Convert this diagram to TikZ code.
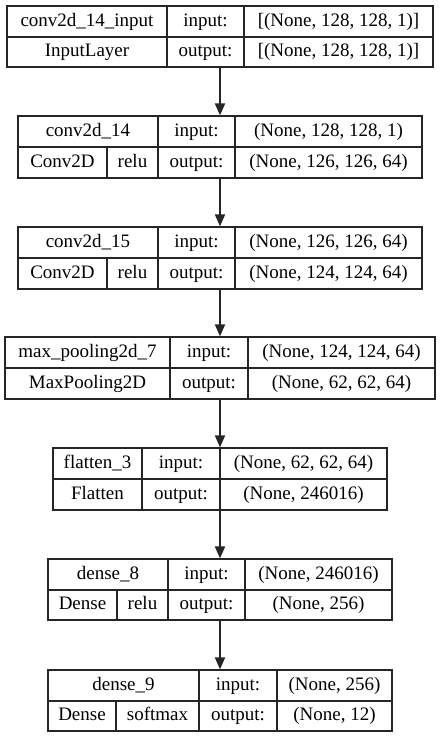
\documentclass[tikz,border=0pt]{standalone}
\usepackage{fontspec}
\setmainfont{Liberation Serif}
\usetikzlibrary{arrows.meta}
\tikzset{
  cell/.style={draw=black!85, line width=1.2pt, inner sep=0pt, text height=13.5pt, text depth=4.5pt, font=\fontsize{19}{22}\selectfont},
  box/.style={draw=black!85, line width=1.2pt, inner sep=0pt},
  conn/.style={draw=black!85, line width=1.8pt, -{Triangle[length=12pt,width=10pt]}}
}
% \cellbox{name}{x1}{y1}{x2}{y2}{text}
\newcommand{\cellbox}[6]{%
  \node[cell, minimum width={(#4-#2)*1pt}, minimum height={(#5-#3)*1pt}] (#1) at ({(#2+#4)/2},{(#3+#5)/2}) {#6};}
\newcommand{\outerbox}[5]{%
  \node[box, minimum width={(#4-#2)*1pt}, minimum height={(#5-#3)*1pt}] (#1) at ({(#2+#4)/2},{(#3+#5)/2}) {};}
\begin{document}
\begin{tikzpicture}[x=1pt,y=-1pt]
\useasboundingbox (0,0) rectangle (440,737);
% Layer 1
\outerbox{L1}{7}{6}{433}{67}
\cellbox{L1a}{7}{6}{167}{37}{conv2d\_14\_input}
\cellbox{L1b}{167}{6}{244}{37}{input:}
\cellbox{L1c}{244}{6}{433}{37}{[(None, 128, 128, 1)]}
\cellbox{L1d}{7}{37}{167}{67}{InputLayer}
\cellbox{L1e}{167}{37}{244}{67}{output:}
\cellbox{L1f}{244}{37}{433}{67}{[(None, 128, 128, 1)]}
% Layer 2
\outerbox{L2}{18}{116}{422}{178}
\cellbox{L2a}{18}{116}{158}{147}{conv2d\_14}
\cellbox{L2b}{158}{116}{235}{147}{input:}
\cellbox{L2c}{235}{116}{422}{147}{(None, 128, 128, 1)}
\cellbox{L2d}{18}{147}{107}{178}{Conv2D}
\cellbox{L2g}{107}{147}{158}{178}{relu}
\cellbox{L2e}{158}{147}{235}{178}{output:}
\cellbox{L2f}{235}{147}{422}{178}{(None, 126, 126, 64)}
% Layer 3
\outerbox{L3}{18}{227}{422}{289}
\cellbox{L3a}{18}{227}{158}{258}{conv2d\_15}
\cellbox{L3b}{158}{227}{235}{258}{input:}
\cellbox{L3c}{235}{227}{422}{258}{(None, 126, 126, 64)}
\cellbox{L3d}{18}{258}{107}{289}{Conv2D}
\cellbox{L3g}{107}{258}{158}{289}{relu}
\cellbox{L3e}{158}{258}{235}{289}{output:}
\cellbox{L3f}{235}{258}{422}{289}{(None, 124, 124, 64)}
% Layer 4
\outerbox{L4}{5}{337}{435}{399}
\cellbox{L4a}{5}{337}{170}{368}{max\_pooling2d\_7}
\cellbox{L4b}{170}{337}{248}{368}{input:}
\cellbox{L4c}{248}{337}{435}{368}{(None, 124, 124, 64)}
\cellbox{L4d}{5}{368}{170}{399}{MaxPooling2D}
\cellbox{L4e}{170}{368}{248}{399}{output:}
\cellbox{L4f}{248}{368}{435}{399}{(None, 62, 62, 64)}
% Layer 5
\outerbox{L5}{53}{448}{387}{510}
\cellbox{L5a}{53}{448}{142}{479}{flatten\_3}
\cellbox{L5b}{142}{448}{220}{479}{input:}
\cellbox{L5c}{220}{448}{387}{479}{(None, 62, 62, 64)}
\cellbox{L5d}{53}{479}{142}{510}{Flatten}
\cellbox{L5e}{142}{479}{220}{510}{output:}
\cellbox{L5f}{220}{479}{387}{510}{(None, 246016)}
% Layer 6
\outerbox{L6}{48}{559}{392}{620}
\cellbox{L6a}{48}{559}{168}{590}{dense\_8}
\cellbox{L6b}{168}{559}{245}{590}{input:}
\cellbox{L6c}{245}{559}{392}{590}{(None, 246016)}
\cellbox{L6d}{48}{590}{117}{620}{Dense}
\cellbox{L6g}{117}{590}{168}{620}{relu}
\cellbox{L6e}{168}{590}{245}{620}{output:}
\cellbox{L6f}{245}{590}{392}{620}{(None, 256)}
% Layer 7
\outerbox{L7}{48}{670}{392}{731}
\cellbox{L7a}{48}{670}{199}{701}{dense\_9}
\cellbox{L7b}{199}{670}{277}{701}{input:}
\cellbox{L7c}{277}{670}{392}{701}{(None, 256)}
\cellbox{L7d}{48}{701}{116}{731}{Dense}
\cellbox{L7g}{116}{701}{199}{731}{softmax}
\cellbox{L7e}{199}{701}{277}{731}{output:}
\cellbox{L7f}{277}{701}{392}{731}{(None, 12)}
% Connectors
\draw[conn] (L1.south) -- (L2.north);
\draw[conn] (L2.south) -- (L3.north);
\draw[conn] (L3.south) -- (L4.north);
\draw[conn] (L4.south) -- (L5.north);
\draw[conn] (L5.south) -- (L6.north);
\draw[conn] (L6.south) -- (L7.north);
\end{tikzpicture}
\end{document}
